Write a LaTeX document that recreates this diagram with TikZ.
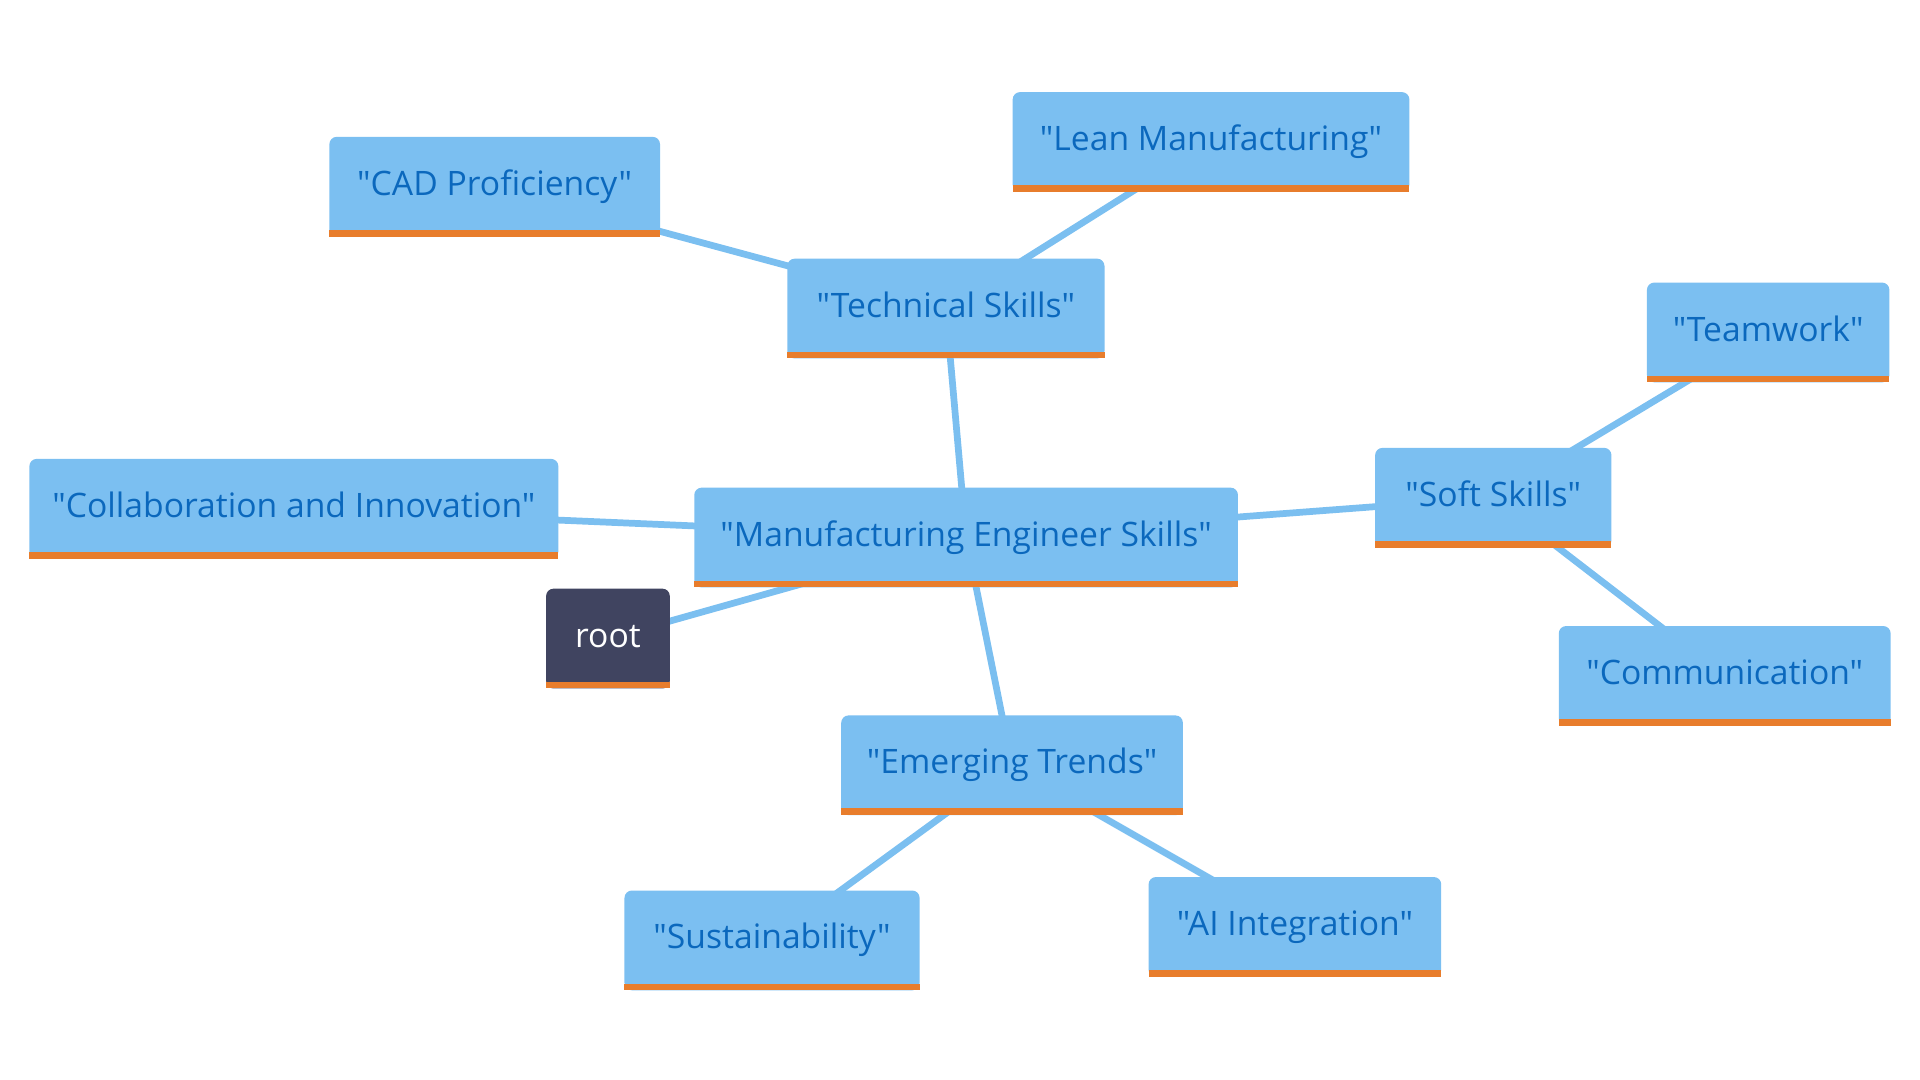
\documentclass[tikz,border=0pt]{standalone}
\usepackage{fontspec}
\setmainfont{Open Sans}[Ligatures=TeXOff]
\definecolor{boxfill}{HTML}{7BBFF1}
\definecolor{boxtext}{HTML}{0B68BD}
\definecolor{barorange}{HTML}{E87D2C}
\definecolor{rootfill}{HTML}{404460}
\definecolor{edgecol}{HTML}{7BBFF0}
\tikzset{
  mbox/.style={draw=none, fill=boxfill, rounded corners=6pt, minimum height=81.5pt, inner sep=0pt, outer sep=0pt},
  rootbox/.style={mbox, fill=rootfill},
  mtext/.style={anchor=base, text=boxtext, font=\fontsize{27.5}{31}\selectfont, inner sep=0pt},
  roottext/.style={mtext, text=white},
  edge/.style={draw=edgecol, line width=5.5pt}
}
\newcommand{\mmnode}[6]{%
  \node[#6, minimum width=#4pt] (#1) at (#2,#3) {};
  \fill[barorange] ([yshift=0pt]#1.south west) rectangle ([yshift=5.5pt]#1.south east);
}
\begin{document}
\begin{tikzpicture}[x=1pt,y=-1pt]
\useasboundingbox (0,0) rectangle (1568,882);
% edges (center to center), drawn first
\coordinate (cCAD) at (404,152.5);
\coordinate (cLean) at (989,116);
\coordinate (cTech) at (772.5,252);
\coordinate (cTeam) at (1444,271.5);
\coordinate (cSoft) at (1219.5,406.5);
\coordinate (cCollab) at (240,415.5);
\coordinate (cMan) at (789,439);
\coordinate (cRoot) at (496.5,521.5);
\coordinate (cComm) at (1408.5,552);
\coordinate (cEmer) at (826.5,625);
\coordinate (cSust) at (630.5,768);
\coordinate (cAI) at (1057.5,757);
\draw[edge] (cMan) -- (cTech);
\draw[edge] (cTech) -- (cCAD);
\draw[edge] (cTech) -- (cLean);
\draw[edge] (cMan) -- (cCollab);
\draw[edge] (cMan) -- (cRoot);
\draw[edge] (cMan) -- (cSoft);
\draw[edge] (cSoft) -- (cTeam);
\draw[edge] (cSoft) -- (cComm);
\draw[edge] (cMan) -- (cEmer);
\draw[edge] (cEmer) -- (cSust);
\draw[edge] (cEmer) -- (cAI);
% boxes
\mmnode{CAD}{404}{152.5}{270}{}{mbox}
\mmnode{Lean}{989}{116}{324}{}{mbox}
\mmnode{Tech}{772.5}{252}{259}{}{mbox}
\mmnode{Team}{1444}{271.5}{198}{}{mbox}
\mmnode{Soft}{1219.5}{406.5}{193}{}{mbox}
\mmnode{Collab}{240}{415.5}{432}{}{mbox}
\mmnode{Man}{789}{439}{444}{}{mbox}
\mmnode{Root}{496.5}{521.5}{101}{}{rootbox}
\mmnode{Comm}{1408.5}{552}{271}{}{mbox}
\mmnode{Emer}{826.5}{625}{279}{}{mbox}
\mmnode{Sust}{630.5}{768}{241}{}{mbox}
\mmnode{AI}{1057.5}{757}{239}{}{mbox}
% texts
\node[mtext] (tCAD) at ([yshift=-7pt]CAD.center) {"CAD Proficiency"};
\node[mtext] (tLean) at ([yshift=-7pt]Lean.center) {"Lean Manufacturing"};
\node[mtext] (tTech) at ([yshift=-7pt]Tech.center) {"Technical Skills"};
\node[mtext] (tTeam) at ([yshift=-7pt]Team.center) {"Teamwork"};
\node[mtext] (tSoft) at ([yshift=-7pt]Soft.center) {"Soft Skills"};
\node[mtext] (tCollab) at ([yshift=-7pt]Collab.center) {"Collaboration and Innovation"};
\node[mtext] (tMan) at ([yshift=-7pt]Man.center) {"Manufacturing Engineer Skills"};
\node[roottext] (tRoot) at ([yshift=-7pt]Root.center) {root};
\node[mtext] (tComm) at ([yshift=-7pt]Comm.center) {"Communication"};
\node[mtext] (tEmer) at ([yshift=-7pt]Emer.center) {"Emerging Trends"};
\node[mtext] (tSust) at ([yshift=-7pt]Sust.center) {"Sustainability"};
\node[mtext] (tAI) at ([yshift=-7pt]AI.center) {"AI Integration"};
\end{tikzpicture}
\end{document}
